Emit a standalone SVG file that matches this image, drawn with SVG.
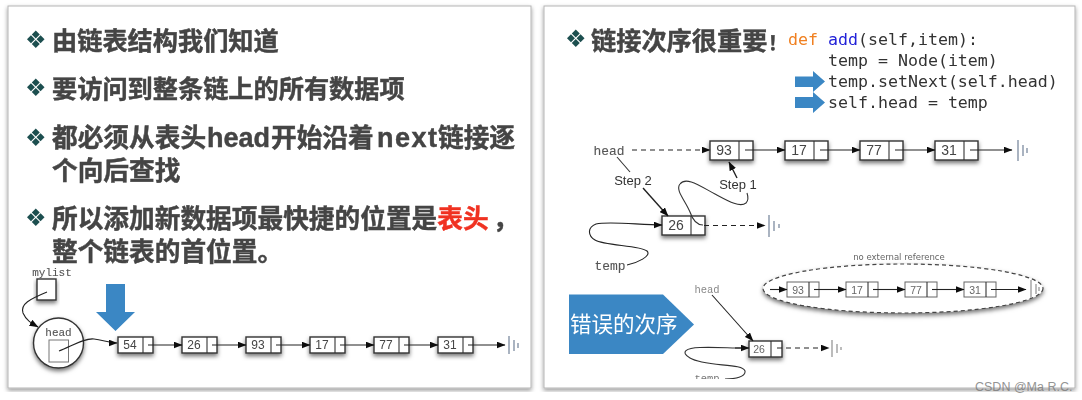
<svg xmlns="http://www.w3.org/2000/svg" width="1082" height="400" viewBox="0 0 1082 400">
<style>
.h{font:bold 25.2px "Noto Sans CJK SC",sans-serif;fill:#444;stroke:#444;stroke-width:.45}
.h2{font-size:25.7px}
.lat{font-family:"Liberation Sans",sans-serif;font-size:27px}
.b{font:24px "DejaVu Sans",sans-serif;fill:#1f4f50}
.c{font:16.6px "DejaVu Sans Mono",monospace;fill:#333}
.m{font:12.9px "Liberation Mono",monospace;fill:#555;text-anchor:middle;stroke:#555;stroke-width:.1}
.s{font:13px "Liberation Sans",sans-serif;fill:#333;text-anchor:middle}
.n{fill:#fff;stroke:#333;stroke-width:1.4}
.l{fill:#444;text-anchor:middle;font-family:"Liberation Sans",sans-serif}
.a{fill:none;stroke:#222;stroke-width:1.1;marker-end:url(#ah)}
.d{stroke-dasharray:5 4}
.p{fill:none;stroke:#333;stroke-width:1.1}
.g{fill:none;stroke:#7d8ca0;stroke-width:1.3}
.ar{fill:#3b87c4}
</style>
<defs>
<marker id="ah" markerWidth="9" markerHeight="7" refX="8.500" refY="3.500" orient="auto" markerUnits="userSpaceOnUse"><path d="M0 0L9 3.500L0 7Z" fill="#111"/></marker>
<filter id="ps" x="-3%" y="-3%" width="106%" height="106%"><feDropShadow dx="0" dy="2" stdDeviation="2" flood-color="#000" flood-opacity=".4"/></filter>
<filter id="ns" x="-20%" y="-30%" width="140%" height="180%"><feDropShadow dx="0" dy="2.500" stdDeviation="2" flood-color="#000" flood-opacity=".55"/></filter>
<filter id="bl" x="-1%" y="-1%" width="102%" height="102%"><feGaussianBlur stdDeviation=".5"/></filter>
<clipPath id="cp"><rect x="544" y="6" width="531" height="373"/></clipPath>
</defs>
<rect width="1082" height="400" fill="#fff"/>
<g filter="url(#bl)">
<g id="panel-left"><rect x="8" y="6" width="523" height="382" fill="#fff" stroke="#b5b5b5" filter="url(#ps)"/></g>
<g id="panel-right"><rect x="544" y="6" width="531" height="382" fill="#fff" stroke="#b5b5b5" filter="url(#ps)"/></g>

<g id="left-text">
<text class="b" x="25" y="48">❖</text><text class="h" x="52" y="50">由链表结构我们知道</text>
<text class="b" x="25" y="96">❖</text><text class="h" x="52" y="98">要访问到整条链上的所有数据项</text>
<text class="b" x="25" y="146">❖</text><text class="h h2" x="52" y="147">都必须从表头<tspan class="lat" x="207">head</tspan><tspan x="271">开始沿着</tspan><tspan class="lat" x="377" textLength="60">next</tspan><tspan x="438">链接逐</tspan></text>
<text class="h h2" x="52" y="180">个向后查找</text>
<text class="b" x="25" y="226">❖</text><text class="h h2" x="52" y="228">所以添加新数据项最快捷的位置是<tspan fill="#f03020" stroke="#f03020">表头</tspan><tspan x="493">，</tspan></text>
<text class="h h2" x="52" y="261">整个链表的首位置。</text>
</g>

<g id="mylist"><text class="m" x="52" y="276" style="font-size:11px">mylist</text><rect class="n" x="37" y="279" width="19" height="21" filter="url(#ns)"/></g>
<g id="head-circle"><circle class="n" cx="58.500" cy="343" r="25" filter="url(#ns)"/><text class="m" x="58.500" y="336" style="font-size:11px">head</text><rect x="49" y="340" width="19.500" height="22" fill="#fff" stroke="#777"/></g>
<path id="down-arrow" class="ar" d="M106 284H125V312H135L115.500 331L96 312H106Z"/>

<g id="n54"><rect class="n" x="118" y="337" width="35" height="16" filter="url(#ns)"/><path class="p" d="M143 337V353"/><text class="l" x="130" y="349" font-size="12">54</text></g>
<g id="n26"><rect class="n" x="182" y="337" width="35" height="16" filter="url(#ns)"/><path class="p" d="M207 337V353"/><text class="l" x="194" y="349" font-size="12">26</text></g>
<g id="n93"><rect class="n" x="246" y="337" width="35" height="16" filter="url(#ns)"/><path class="p" d="M271 337V353"/><text class="l" x="258" y="349" font-size="12">93</text></g>
<g id="n17"><rect class="n" x="310" y="337" width="35" height="16" filter="url(#ns)"/><path class="p" d="M335 337V353"/><text class="l" x="322" y="349" font-size="12">17</text></g>
<g id="n77"><rect class="n" x="374" y="337" width="35" height="16" filter="url(#ns)"/><path class="p" d="M399 337V353"/><text class="l" x="386" y="349" font-size="12">77</text></g>
<g id="n31"><rect class="n" x="438" y="337" width="35" height="16" filter="url(#ns)"/><path class="p" d="M463 337V353"/><text class="l" x="450" y="349" font-size="12">31</text></g>
<path id="left-null" class="g" d="M509 336V354M514 340V351M518 343V348"/>

<g id="left-connectors">
<path class="a" d="M47 292C30 299 20 304 23 313C26 320 31 323 38 327"/>
<path class="a" d="M59 351C72 346 84 338 94 339C103 340 109 343 117 343"/>
<path class="a" d="M148 345H182"/>
<path class="a" d="M212 345H246"/>
<path class="a" d="M276 345H310"/>
<path class="a" d="M340 345H374"/>
<path class="a" d="M404 345H438"/>
<path class="a" d="M468 345H505"/>
</g>

<g id="right-title"><text class="b" x="565" y="47">❖</text><text class="h" x="591" y="50">链接次序很重要<tspan x="768" font-size="19.500">！</tspan></text></g>
<g id="code">
<text class="c" x="788" y="45"><tspan fill="#f08020">def</tspan></text><text class="c" x="828" y="45"><tspan fill="#2222d8">add</tspan>(self,item):</text>
<text class="c" x="828" y="66">temp = Node(item)</text>
<text class="c" x="828" y="87">temp.setNext(self.head)</text>
<text class="c" x="828" y="108">self.head = temp</text>
</g>
<path id="code-arrow-1" class="ar" d="M795 76.500H813V71L825 81.500L813 92V87H795Z"/>
<path id="code-arrow-2" class="ar" d="M795 97H813V92L825 102.500L813 113V108H795Z"/>

<text class="m" x="609" y="155">head</text>
<text class="m" x="610" y="270">temp</text>
<text class="s" x="633" y="185">Step 2</text>
<text class="s" x="738" y="189">Step 1</text>

<g id="t93"><rect class="n" x="710" y="141" width="43" height="19" filter="url(#ns)"/><path class="p" d="M739 141V160"/><text class="l" x="724" y="155" font-size="14">93</text></g>
<g id="t17"><rect class="n" x="785" y="141" width="43" height="19" filter="url(#ns)"/><path class="p" d="M814 141V160"/><text class="l" x="799" y="155" font-size="14">17</text></g>
<g id="t77"><rect class="n" x="860" y="141" width="43" height="19" filter="url(#ns)"/><path class="p" d="M889 141V160"/><text class="l" x="874" y="155" font-size="14">77</text></g>
<g id="t31"><rect class="n" x="935" y="141" width="43" height="19" filter="url(#ns)"/><path class="p" d="M964 141V160"/><text class="l" x="949" y="155" font-size="14">31</text></g>
<path id="top-null" class="g" d="M1018 140V161M1023 145V156M1027 148V153"/>
<g id="t26"><rect class="n" x="662" y="216" width="43" height="19" filter="url(#ns)"/><path class="p" d="M691 216V235"/><text class="l" x="676" y="230" font-size="14">26</text></g>
<path id="mid-null" class="g" d="M769 215V237M774 221V231M779 224V228"/>

<g id="right-connectors">
<path class="a d" d="M632 150H710"/>
<path class="a" d="M745 150H785"/>
<path class="a" d="M820 150H860"/>
<path class="a" d="M895 150H935"/>
<path class="a" d="M970 150H1012"/>
<path class="p" d="M617 157L630 172"/>
<path class="a" style="stroke-width:1.400" d="M643 188L668 216"/>
<path class="a" style="stroke-width:1.400" d="M737 178L729 162"/>
<path class="a d" d="M704 225.500H765"/>
<path class="p" d="M703 225C695 225 692 218 690 212C685 200 675 190 680 184C686 176 700 186 715 194C728 201 740 208 746 203C749 200 748 196 747 193"/>
<path class="a" d="M627 265C637 263 652 256 647 251C640 245 605 246 595 240C587 235 588 227 596 224C610 221 640 225 662 225"/>
</g>

<g id="pentagon"><path class="ar" d="M569 294.500H663L694 324.500L663 354H569Z"/><text x="570" y="332" font-size="21.500" fill="#fff" font-family="Noto Sans CJK SC,sans-serif">错误的次序</text></g>

<g id="orphan">
<text x="899" y="260" font-size="8.500" fill="#666" text-anchor="middle" font-family="DejaVu Sans,sans-serif">no external reference</text>
<ellipse cx="903" cy="288.500" rx="140" ry="24.500" fill="#fff" stroke="#444" stroke-width="1.200" stroke-dasharray="4 3" filter="url(#ns)"/>
</g>
<g id="o93"><rect x="787" y="282" width="32" height="15" fill="#fff" stroke="#666"/><path class="p" d="M809 282V297"/><text class="l" x="798" y="294" font-size="10.500" style="fill:#666">93</text></g>
<g id="o17"><rect x="846" y="282" width="32" height="15" fill="#fff" stroke="#666"/><path class="p" d="M868 282V297"/><text class="l" x="857" y="294" font-size="10.500" style="fill:#666">17</text></g>
<g id="o77"><rect x="905" y="282" width="32" height="15" fill="#fff" stroke="#666"/><path class="p" d="M927 282V297"/><text class="l" x="916" y="294" font-size="10.500" style="fill:#666">77</text></g>
<g id="o31"><rect x="964" y="282" width="32" height="15" fill="#fff" stroke="#666"/><path class="p" d="M986 282V297"/><text class="l" x="975" y="294" font-size="10.500" style="fill:#666">31</text></g>
<path id="orphan-null" class="g" style="stroke:#999" d="M1031 280V298M1036 284V294M1039 287V291"/>
<g id="orphan-connectors">
<path class="a" d="M770 289.500H787"/>
<path class="a" d="M814 289.500H846"/>
<path class="a" d="M873 289.500H905"/>
<path class="a" d="M932 289.500H964"/>
<path class="a" d="M991 289.500H1026"/>
</g>

<text class="m" x="707" y="293" style="fill:#888;stroke:none;font-size:10.500px">head</text>
<g clip-path="url(#cp)"><text class="m" x="707" y="382" style="fill:#777;stroke:none;font-size:10.500px">temp</text>
<path class="p" d="M725 379C735 379 746 377 745 371C743 363 705 367 690 358C680 352 686 348 700 347.500C715 347 730 348 744 348"/></g>
<g id="b26"><rect class="n" x="749" y="341" width="33" height="16" filter="url(#ns)"/><path class="p" d="M771 341V357"/><text class="l" x="759" y="353" font-size="10.500" style="fill:#666">26</text></g>
<path id="bottom-null" class="g" style="stroke:#999" d="M832 340V357M837 344V353M841 347V350"/>
<g id="bottom-connectors">
<path class="a" d="M712 295L753 341"/>
<path class="a" d="M735 348H749"/>
<path class="a d" d="M777 348H829"/>
</g>
</g>
<text id="watermark" x="975" y="391" font-size="12.500" fill="#777" fill-opacity=".8" font-family="Liberation Sans,sans-serif">CSDN @Ma R.C.</text>
</svg>
